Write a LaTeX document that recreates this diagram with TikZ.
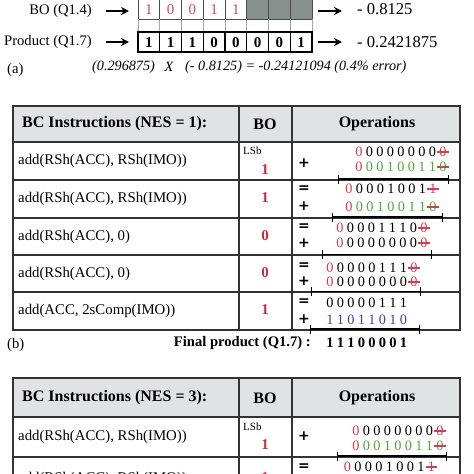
\documentclass[tikz,border=0pt]{standalone}
\usepackage{fontspec}
\setmainfont{Liberation Serif}
\newfontfamily\symfont{DejaVu Sans}
\usetikzlibrary{arrows.meta}
\definecolor{tred}{HTML}{D24A5C}
\definecolor{bred}{HTML}{D43E4C}
\definecolor{bored}{HTML}{C8303E}
\definecolor{bgreen}{HTML}{4FA83E}
\definecolor{bblue}{HTML}{3A44A0}
\definecolor{cellgray}{HTML}{87918E}
\definecolor{hdrfill}{HTML}{DFE3E3}
\definecolor{tl}{HTML}{333333}
\newcommand\bitrow[4]{%
  \foreach \cc/\ch [count=\i from 0] in {#3} {\node[bit,text=\cc,#4] at ({#1+\i*10.5},#2) {\ch};}}
\newcommand\crossed[4]{%
  \node[bit,text=#3] (cx) at (#1,#2) {#4};
  \draw[strike] ([xshift=-1.8pt]cx.west) -- ([xshift=1.8pt]cx.east);}
\begin{document}
\begin{tikzpicture}[x=1pt,y=-1pt,
  lab/.style={inner sep=0pt,font=\fontsize{14.6}{16}\selectfont},
  val/.style={inner sep=0pt,font=\fontsize{16.6}{18}\selectfont},
  eqt/.style={inner sep=0pt,font=\itshape\fontsize{14.2}{16}\selectfont},
  topdig/.style={inner sep=0pt,font=\fontsize{15}{16}\selectfont},
  bit/.style={inner sep=0pt,font=\fontsize{14.3}{16}\selectfont},
  hdr/.style={inner sep=0pt,font=\bfseries\fontsize{16}{18}\selectfont},
  ins/.style={inner sep=0pt,anchor=west,font=\fontsize{14.8}{16}\selectfont},
  bo/.style={inner sep=0pt,text=bored,font=\bfseries\fontsize{15}{16}\selectfont},
  lsb/.style={inner sep=0pt,anchor=west,font=\fontsize{11}{12}\selectfont},
  sym/.style={inner sep=0pt,font=\symfont\bfseries\fontsize{14}{16}\selectfont},
  arr/.style={line width=1.7pt,-{Stealth[length=8pt,width=8pt]}},
  barline/.style={line width=1.4pt,{Bar[width=9pt,line width=1.2pt]}-{Bar[width=9pt,line width=1.2pt]}},
  strike/.style={draw=bred,line width=1.3pt},
  tline/.style={draw=tl,line width=1.1pt},
  gridthin/.style={draw=black!70,line width=0.7pt},
  gridlight/.style={draw=black!35,line width=0.7pt}]
\useasboundingbox (0,0) rectangle (474,474);
\clip (0,0) rectangle (474,474);
% ---------- (a) top grid ----------
\fill[cellgray] (246.75,-5) rectangle (312,19);
\foreach \k in {0,...,8} \draw[gridthin] ({138+\k*21.75},-5) -- ({138+\k*21.75},19);
\draw[gridthin] (138,19) -- (312,19);
\foreach \k in {0,...,8} \draw[gridlight] ({138+\k*21.75},19) -- ({138+\k*21.75},32);
\foreach \k in {1,...,7} \draw[line width=1.3pt] ({138+\k*21.75},32) -- ({138+\k*21.75},52);
\draw[line width=1.5pt] (138,32) rectangle (312,52);
\foreach \d [count=\i from 0] in {1,0,0,1,1}
  \node[topdig,text=tred] (bo\i) at ({148.9+\i*21.75},10) {\d};
\foreach \d [count=\i from 0] in {1,1,1,0,0,0,0,1}
  \node[topdig,font=\bfseries\fontsize{15}{16}\selectfont] (pd\i) at ({148.9+\i*21.75},42.5) {\d};
\node[lab,anchor=east] (bol) at (92,11) {BO (Q1.4)};
\node[lab,anchor=east] (prl) at (92,42) {Product (Q1.7)};
\coordinate (a1s) at (106,11); \coordinate (a1e) at (129,11);
\coordinate (a2s) at (106,42); \coordinate (a2e) at (129,42);
\coordinate (a3s) at (318,11); \coordinate (a3e) at (342,11);
\coordinate (a4s) at (318,42); \coordinate (a4e) at (342,42);
\draw[arr] (a1s) -- (a1e);
\draw[arr] (a2s) -- (a2e);
\draw[arr] (a3s) -- (a3e);
\draw[arr] (a4s) -- (a4e);
\node[val,anchor=west] (v1) at (357,9.5) {- 0.8125};
\node[val,anchor=west] (v2) at (357,42) {- 0.2421875};
\node[lab,anchor=west] (alab) at (7,70) {(a)};
\node[eqt,anchor=west] (eq1) at (92,67) {(0.296875)};
\node[eqt] (eqx) at (169,67) {X};
\node[eqt,anchor=west] (eq2) at (185,67) {(- 0.8125) = -0.24121094 (0.4\% error)};
% ---------- table 1 ----------
\fill[hdrfill] (13,106) rectangle (460,142);
\foreach \yy in {142,180,218,255,292} \draw[tline] (13,\yy) -- (460,\yy);
\draw[tline] (239,106) -- (239,330);
\draw[tline,line width=1.5pt] (292,106) -- (292,330);
\draw[tline,line width=1.3pt] (13,106) rectangle (460,330);
\node[hdr,anchor=west] (h1) at (22,124) {BC Instructions (NES = 1):};
\node[hdr] (h2) at (265,124) {BO};
\node[hdr] (h3) at (377,124) {Operations};
\node[ins] (i1) at (18,161) {add(RSh(ACC), RSh(IMO))};
\node[ins] (i2) at (18,199) {add(RSh(ACC), RSh(IMO))};
\node[ins] (i3) at (18,236.5) {add(RSh(ACC), 0)};
\node[ins] (i4) at (18,273.5) {add(RSh(ACC), 0)};
\node[ins] (i5) at (18,311) {add(ACC, 2sComp(IMO))};
\node[lsb] (ls1) at (243,151) {LSb};
\node[bo] (b1) at (265,170) {1};
\node[bo] (b2) at (265,198) {1};
\node[bo] (b3) at (265,235.5) {0};
\node[bo] (b4) at (265,272.5) {0};
\node[bo] (b5) at (265,310) {1};
\node[sym] (s1) at (304,163) {+};
\node[sym] (s2) at (304,189) {=};
\node[sym] (s3) at (304,206) {+};
\node[sym] (s4) at (304,227) {=};
\node[sym] (s5) at (304,243) {+};
\node[sym] (s6) at (304,266) {=};
\node[sym] (s7) at (304,281) {+};
\node[sym] (s8) at (304,302) {=};
\node[sym] (s9) at (304,319) {+};
% row 1
\bitrow{359}{152}{bred/0,black/0,black/0,black/0,black/0,black/0,black/0,black/0}{}
\crossed{443}{152}{bred}{0}
\bitrow{359}{167}{bred/0,bgreen/0,bgreen/0,bgreen/1,bgreen/0,bgreen/0,bgreen/1,bgreen/1}{}
\crossed{443}{167}{bgreen}{0}
\coordinate (r1a) at (338,179); \coordinate (r1b) at (449,179);
\draw[barline] (r1a) -- (r1b);
% row 2
\bitrow{349}{189}{bred/0,black/0,black/0,black/0,black/1,black/0,black/0,black/1}{}
\crossed{433}{189}{bred}{1}
\bitrow{349}{207}{bred/0,bgreen/0,bgreen/0,bgreen/1,bgreen/0,bgreen/0,bgreen/1,bgreen/1}{}
\crossed{433}{207}{bgreen}{0}
\coordinate (r2a) at (332,217); \coordinate (r2b) at (443,217);
\draw[barline] (r2a) -- (r2b);
% row 3
\bitrow{340}{228}{bred/0,black/0,black/0,black/0,black/1,black/1,black/1,black/0}{}
\crossed{424}{228}{bred}{0}
\bitrow{340}{243}{bred/0,black/0,black/0,black/0,black/0,black/0,black/0,black/0}{}
\crossed{424}{243}{bred}{0}
\coordinate (r3a) at (322,254.5); \coordinate (r3b) at (432,254.5);
\draw[barline] (r3a) -- (r3b);
% row 4
\bitrow{330}{268}{bred/0,black/0,black/0,black/0,black/0,black/1,black/1,black/1}{}
\crossed{414}{268}{bred}{0}
\bitrow{330}{282}{bred/0,black/0,black/0,black/0,black/0,black/0,black/0,black/0}{}
\crossed{414}{282}{bred}{0}
\coordinate (r4a) at (311,291.5); \coordinate (r4b) at (421,291.5);
\draw[barline] (r4a) -- (r4b);
% row 5
\bitrow{330}{303}{black/0,black/0,black/0,black/0,black/0,black/1,black/1,black/1}{}
\bitrow{330}{320}{bblue/1,bblue/1,bblue/0,bblue/1,bblue/1,bblue/0,bblue/1,bblue/0}{}
\coordinate (r5a) at (310,329); \coordinate (r5b) at (420,329);
\draw[barline] (r5a) -- (r5b);
\node[lab,anchor=west] (blab) at (7,345) {(b)};
\node[hdr,anchor=east,font=\bfseries\fontsize{14.6}{16}\selectfont] (fp) at (311,343) {Final product (Q1.7) :};
\bitrow{330}{343}{black/1,black/1,black/1,black/0,black/0,black/0,black/0,black/1}{font=\bfseries\fontsize{14.5}{16}\selectfont}
% ---------- table 2 ----------
\fill[hdrfill] (13,378) rectangle (460,417);
\foreach \yy in {417,457} \draw[tline] (13,\yy) -- (460,\yy);
\draw[tline] (239,378) -- (239,490);
\draw[tline,line width=1.5pt] (292,378) -- (292,490);
\draw[tline,line width=1.3pt] (13,490) -- (13,378) -- (460,378) -- (460,490);
\node[hdr,anchor=west] (k1) at (22,398) {BC Instructions (NES = 3):};
\node[hdr] (k2) at (265,398) {BO};
\node[hdr] (k3) at (377,398) {Operations};
\node[ins] (j1) at (18,437) {add(RSh(ACC), RSh(IMO))};
\node[ins] (j2) at (18,479) {add(RSh(ACC), RSh(IMO))};
\node[lsb] (ls2) at (243,427) {LSb};
\node[bo] (c1) at (265,445) {1};
\node[bo] (c2) at (265,478) {1};
\node[sym] (t1) at (304,436) {+};
\node[sym] (t2) at (304,467) {=};
\bitrow{356}{431}{bred/0,black/0,black/0,black/0,black/0,black/0,black/0,black/0}{}
\crossed{440}{431}{bred}{0}
\bitrow{356}{446}{bred/0,bgreen/0,bgreen/0,bgreen/1,bgreen/0,bgreen/0,bgreen/1,bgreen/1}{}
\crossed{440}{446}{bgreen}{0}
\coordinate (q1a) at (337,456); \coordinate (q1b) at (447,456);
\draw[barline] (q1a) -- (q1b);
\bitrow{347.5}{467}{bred/0,black/0,black/0,black/0,black/1,black/0,black/0,black/1}{}
\crossed{431.5}{467}{bred}{1}
\end{tikzpicture}
\end{document}
